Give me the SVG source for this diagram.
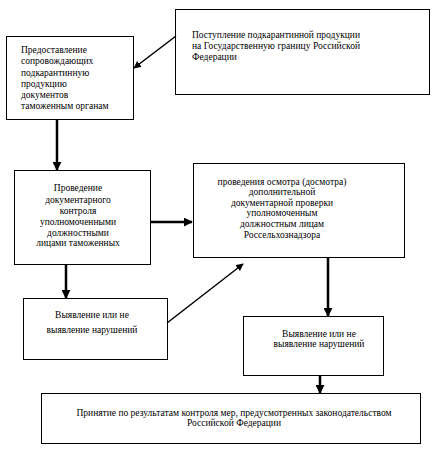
<svg xmlns="http://www.w3.org/2000/svg" width="440" height="461" viewBox="0 0 440 461">
<style>
.box{fill:#fff;stroke:#000;stroke-width:1}
text{font-family:'Liberation Serif','Times New Roman',Times,serif;font-size:9.5px;fill:#000}
.c{text-anchor:middle}
.a{stroke:#000;stroke-width:2.5;fill:none;marker-end:url(#ah)}
.a2{stroke:#000;stroke-width:1.5;fill:none;marker-end:url(#ah2)}
</style>
<defs>
<marker id="ah" viewBox="0 0 10 10" refX="9" refY="5" markerWidth="3.6" markerHeight="3.6" orient="auto" markerUnits="strokeWidth"><path d="M0,0 L10,5 L0,10 z" fill="#000"/></marker>
<marker id="ah2" viewBox="0 0 10 10" refX="9" refY="5" markerWidth="5" markerHeight="5" orient="auto" markerUnits="strokeWidth"><path d="M0,0 L10,5 L0,10 z" fill="#000"/></marker>
</defs>
<rect width="440" height="461" fill="#fff"/>
<g id="n1"><rect class="box" x="175.5" y="9.5" width="254" height="85"/>
<text x="192" y="38" textLength="168">Поступление  подкарантинной  продукции</text>
<text x="192" y="49" textLength="168">на Государственную  границу  Российской</text>
<text x="192" y="60">Федерации</text></g>
<g id="n2"><rect class="box" x="6.5" y="36.5" width="127" height="83"/>
<text x="21" y="53">Предоставление</text>
<text x="21" y="64">сопровождающих</text>
<text x="21" y="76">подкарантинную</text>
<text x="21" y="87">продукцию</text>
<text x="21" y="98">документов</text>
<text x="21" y="109">таможенным    органам</text></g>
<g id="n3"><rect class="box" x="14.5" y="170.5" width="136" height="94"/>
<text class="c" x="78" y="191">Проведение</text>
<text class="c" x="78" y="203">документарного</text>
<text class="c" x="78" y="214">контроля</text>
<text class="c" x="78" y="225">уполномоченными</text>
<text class="c" x="78" y="236">должностными</text>
<text class="c" x="78" y="246">лицами таможенных</text></g>
<g id="n4"><rect class="box" x="193.5" y="163.5" width="211" height="94"/>
<text class="c" x="282" y="185">проведения  осмотра (досмотра)</text>
<text class="c" x="282" y="195">дополнительной</text>
<text class="c" x="282" y="206">документарной  проверки</text>
<text class="c" x="282" y="216">уполномоченным</text>
<text class="c" x="282" y="227">должностным лицам</text>
<text class="c" x="282" y="238">Россельхознадзора</text></g>
<g id="n5"><rect class="box" x="23.5" y="298.5" width="144" height="61"/>
<text class="c" x="92" y="318">Выявление или не</text>
<text class="c" x="92" y="333">выявление нарушений</text></g>
<g id="n6"><rect class="box" x="243.5" y="316.5" width="140" height="59"/>
<text class="c" x="319" y="337">Выявление или не</text>
<text class="c" x="319" y="347">выявление нарушений</text></g>
<g id="n7"><rect class="box" x="41.5" y="393.5" width="379" height="50"/>
<text class="c" x="234" y="416">Принятие  по результатам контроля мер, предусмотренных  законодательством</text>
<text class="c" x="234" y="426">Российской Федерации</text></g>
<g id="connectors">
<line class="a2" x1="176" y1="36" x2="134" y2="68"/>
<line class="a" x1="57" y1="120" x2="57" y2="170"/>
<line class="a" x1="151" y1="222" x2="192" y2="222"/>
<line class="a" x1="66" y1="265" x2="66" y2="298"/>
<line class="a2" x1="167" y1="323" x2="243" y2="264"/>
<line class="a" x1="328" y1="258" x2="328" y2="316"/>
<line class="a" x1="320" y1="376" x2="320" y2="393"/>
</g>
</svg>
